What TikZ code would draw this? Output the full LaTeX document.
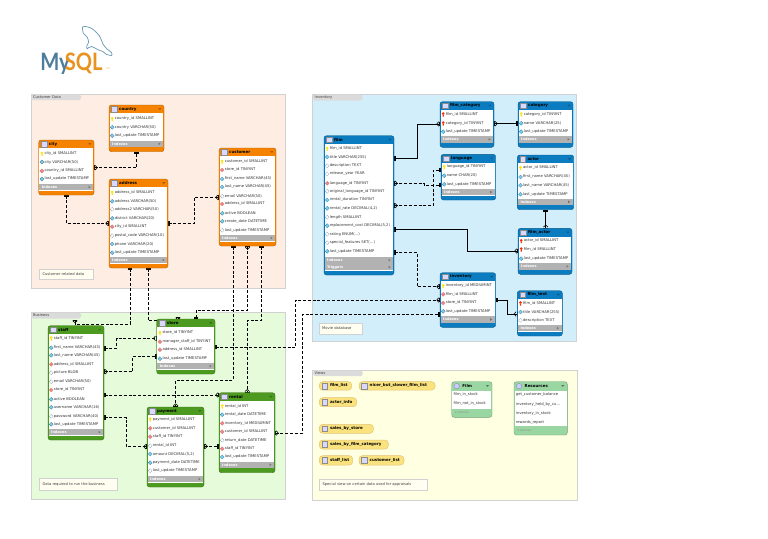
\documentclass[tikz,border=0pt]{standalone}
\usepackage{fontspec}
\setmainfont{DejaVu Sans}
\newfontfamily\logofont{Lato}
\usetikzlibrary{arrows.meta}

\pgfdeclarelayer{groups}
\pgfdeclarelayer{links}
\pgfsetlayers{groups,links,main}

\definecolor{ordata}{HTML}{F58200}
\definecolor{grbiz}{HTML}{4C9A20}
\definecolor{blinv}{HTML}{0B7CBF}
\definecolor{rtgreen}{HTML}{9AD6A2}
\definecolor{viewfill}{HTML}{FAE27E}
\definecolor{viewedge}{HTML}{E2C477}
\definecolor{peachbox}{HTML}{FDEDE3}
\definecolor{greenbox}{HTML}{E5FBDA}
\definecolor{bluebox}{HTML}{D3EEFB}
\definecolor{yellowbox}{HTML}{FFFFE2}
\definecolor{logoblue}{HTML}{4E7C9C}
\definecolor{logoorange}{HTML}{E8921F}
\definecolor{logofin}{HTML}{6E9BB5}

\tikzset{
  x=1pt, y=-1pt,
  frame/.style={draw=#1!75!black, line width=.4pt, rounded corners=2.5pt, outer sep=0pt, inner sep=0pt, anchor=north west},
  rowtxt/.style={anchor=west, inner sep=0pt, font=\fontsize{3.75}{4}\selectfont, text=black!80},
  headtxt/.style={anchor=west, inner sep=0pt, font=\fontsize{4}{4.5}\selectfont\bfseries},
  bartxt/.style={anchor=west, inner sep=0pt, font=\fontsize{3.5}{4}\selectfont\bfseries, text=white},
  smalltxt/.style={anchor=west, inner sep=0pt, font=\fontsize{3.7}{4}\selectfont, text=black!75},
  one/.tip={Bar[width=4.6pt,line width=.7pt,sep=.7pt] Bar[width=4.6pt,line width=.7pt]},
  many/.tip={Straight Barb[reversed,length=2pt,width=4.6pt,line width=.6pt,sep=.2pt] Bar[width=4.6pt,line width=.7pt]},
  idlink/.style={line width=.85pt, black},
  fklink/.style={line width=.85pt, black, dash pattern=on 3pt off 1.8pt},
}

% column icons, #1 is the position
\newcommand{\iconpk}[1]{\fill[yellow!85!orange, shift={#1}] (0,-.7) circle (1.5) (-.6,0) rectangle (.6,2.2);}
\newcommand{\iconrk}[1]{\fill[red!65!orange, shift={#1}] (0,-.7) circle (1.5) (-.6,0) rectangle (.6,2.2);}
\newcommand{\iconfk}[1]{\draw[red!45!black!50, fill=red!50, line width=.25pt, shift={#1}] (-2,0)--(0,-2)--(2,0)--(0,2)--cycle;}
\newcommand{\iconnn}[1]{\draw[cyan!50!black, fill=cyan!55, line width=.25pt, shift={#1}] (-2,0)--(0,-2)--(2,0)--(0,2)--cycle;}
\newcommand{\iconnu}[1]{\draw[cyan!40!black!60, fill=white, line width=.25pt, shift={#1}] (-2,0)--(0,-2)--(2,0)--(0,2)--cycle;}
\newcommand{\iconbox}[1]{\draw[black!45, fill=blue!15, line width=.4pt, shift={#1}] (0,0) rectangle (5.5,5.5);}

% grey bar of a table: table, x, y, width, label
\newcommand{\dbbar}[5]{%
  \fill[black!30] (#2+.6,#3) rectangle (#2+#4-.6,#3+6.6);
  \node[bartxt] (#1-#5) at (#2+3,#3+3.3) {#5};
  \fill[black!55] (#2+#4-5.5,#3+2) -- (#2+#4-3.5,#3+3.3) -- (#2+#4-5.5,#3+4.6) -- cycle;
}
\newcommand{\dbrows}[3]{%
  \foreach \yy/\kind/\txt [count=\i] in {#3}{
    \csname icon\kind\endcsname{(#2+3.2,\yy)}
    \node[rowtxt] (#1-\i) at (#2+5.6,\yy) {\txt};
  }
}
% [last bar] name, x, y, w, h, colour, title, then the rows y/icon/text
\newcommand{\dbtable}[8][Indexes]{%
  \node[frame=#7, fill=#7, minimum width=#5pt, minimum height=#6pt] (#2) at (#3,#4) {};
  \fill[white] (#3+.6,#4+8.2) rectangle (#3+#5-.6,#4+#6-4.5);
  \iconbox{(#3+2.6,#4+1.4)}
  \node[headtxt] (#2-title) at (#3+10,#4+4.2) {#8};
  \fill[#7!70!black] (#3+#5-5.6,#4+3.2) -- (#3+#5-2.6,#4+3.2) -- (#3+#5-4.1,#4+5) -- cycle;
  \dbbar{#2}{#3}{#4+#6-11.2}{#5}{#1}
  \def\curname{#2}\def\curx{#3}\dbrowsnext
}
\newcommand{\dbrowsnext}[1]{\dbrows{\curname}{\curx}{#1}}
% view pill: name, x, y, w, h, title
\newcommand{\dbview}[6]{%
  \node[draw=viewedge, line width=.5pt, outer sep=0pt, inner sep=0pt, anchor=north west, rounded corners=3.4pt, fill=viewfill, minimum width=#4pt, minimum height=#5pt] (#1) at (#2,#3) {};
  \iconbox{(#2+2.6,#3+1.6)}
  \node[headtxt] (#1-title) at (#2+10.5,#3+#5/2) {#6};
}
% routine group: name, x, y, w, h, title, footer
\newcommand{\dbroutines}[7]{%
  \node[frame=rtgreen, fill=rtgreen, minimum width=#4pt, minimum height=#5pt] (#1) at (#2,#3) {};
  \fill[white] (#2+.6,#3+9) rectangle (#2+#4-.6,#3+#5-8.6);
  \draw[blue!45!black!50, fill=blue!20, line width=.3pt] (#2+5,#3+4.4) circle (2.7);
  \node[headtxt] (#1-title) at (#2+10.5,#3+4.4) {#6};
  \fill[rtgreen!55!black] (#2+#4-6,#3+3.4) -- (#2+#4-3,#3+3.4) -- (#2+#4-4.5,#3+5.2) -- cycle;
  \node[rowtxt, font=\fontsize{2.8}{3}\selectfont, text=black!45] (#1-footer) at (#2+3,#3+#5-4.6) {#7};
}
% layer box: name, x, y, w, h, fill, label
\newcommand{\dblayer}[7]{%
  \node[draw=black!18, line width=.6pt, fill=#6, minimum width=#4pt, minimum height=#5pt, anchor=north west, inner sep=0pt, outer sep=0pt] (#1) at (#2,#3) {};
  \fill[black!14, rounded corners=1.8pt] (#2+.3,#3+.3) -- (#2+50,#3+.3) -- (#2+50,#3+6.2) -- (#2+.3,#3+6.2) -- cycle;
  \node[smalltxt] (#1-tab) at (#2+1.8,#3+3.2) {#7};
}
% note: name, x, y, w, h, text
\newcommand{\dbnote}[6]{%
  \node[draw=black!18, line width=.4pt, fill=yellow!6, minimum width=#4pt, minimum height=#5pt, anchor=north west, inner sep=0pt, outer sep=0pt] (#1) at (#2,#3) {};
  \node[smalltxt] (#1-text) at (#2+3,#3+#5/2) {#6};
}

\begin{document}
\begin{tikzpicture}
\useasboundingbox (0,0) rectangle (768,538);

\begin{pgfonlayer}{groups}
  \dblayer{custdata}{31}{94}{254.7}{194}{peachbox}{Customer Data}
  \dblayer{business}{31}{312.3}{254.7}{186.7}{greenbox}{Business}
  \dblayer{inventorybox}{312.7}{94.3}{264}{247.4}{bluebox}{Inventory}
  \dblayer{viewsbox}{312.7}{370}{264.3}{130}{yellowbox}{Views}
  \dbnote{custnote}{39.3}{269}{53.4}{10.3}{Customer related data}
  \dbnote{biznote}{39.3}{478.3}{77.4}{12}{Data required to run the business}
  \dbnote{movienote}{319}{322.7}{43.3}{11.3}{Movie database}
  \dbnote{viewnote}{319.3}{479}{107.4}{11}{Special view on certain data used for appraisals}
\end{pgfonlayer}

% logo
\draw[logofin, line width=.75pt, line join=round]
  plot[smooth, tension=.6] coordinates {(83.3,33.3) (82.6,27) (87,26.8) (92.5,29) (99.5,36) (103,44) (107,49) (111.5,52.5) (111.8,55.5)}
  plot[smooth, tension=.6] coordinates {(83.3,33.3) (87,37) (88.6,42) (86.8,46) (87,49)}
  plot[smooth, tension=.6] coordinates {(87,49) (91.5,46.5) (98,49.8) (103,51.6) (106.5,54.5) (111.8,55.5)};
\node[anchor=base west, inner sep=0pt, text=logoblue, xscale=.84, font=\fontsize{24}{24}\logofont\bfseries] (logomy) at (40.2,70.3) {My};
\node[anchor=base west, inner sep=0pt, text=logoorange, xscale=.84, font=\fontsize{24}{24}\logofont\bfseries] (logosql) at (64.6,70.3) {SQL};
\node[anchor=base west, inner sep=0pt, text=logoorange, font=\fontsize{2.2}{3}\logofont] (logotm) at (106,69) {TM};

% customer data
\dbtable{country}{109}{105}{55}{46.7}{ordata}{country}
  {119/pk/country\_id SMALLINT, 127.3/nn/country VARCHAR(50), 135.7/nn/last\_update TIMESTAMP}
\dbtable{city}{38.7}{140}{55.3}{55}{ordata}{city}
  {153.7/pk/city\_id SMALLINT, 162/nn/city VARCHAR(50), 171/fk/country\_id SMALLINT, 179/nn/last\_update TIMESTAMP}
\dbtable{address}{109}{179}{59}{89}{ordata}{address}
  {192.7/pk/address\_id SMALLINT, 201.3/nn/address VARCHAR(50), 209.3/nu/address2 VARCHAR(50), 218.3/nn/district VARCHAR(20), 226.7/fk/city\_id SMALLINT, 235.7/nu/postal\_code VARCHAR(10), 244/nn/phone VARCHAR(20), 252.7/nn/last\_update TIMESTAMP}
\dbtable{customer}{219}{148}{57}{98}{ordata}{customer}
  {161.7/pk/customer\_id SMALLINT, 170/fk/store\_id TINYINT, 179/nn/first\_name VARCHAR(45), 187/nn/last\_name VARCHAR(45), 196.3/nu/email VARCHAR(50), 204/fk/address\_id SMALLINT, 213.3/nn/active BOOLEAN, 221.3/nn/create\_date DATETIME, 230.3/nu/last\_update TIMESTAMP}

% business
\dbtable{staff}{48}{325.7}{56}{114.3}{grbiz}{staff}
  {338.3/pk/staff\_id TINYINT, 347.7/nn/first\_name VARCHAR(45), 355.3/nn/last\_name VARCHAR(45), 364.3/fk/address\_id SMALLINT, 372.7/nu/picture BLOB, 381.7/nu/email VARCHAR(50), 390/fk/store\_id TINYINT, 399.3/nn/active BOOLEAN, 407.3/nn/username VARCHAR(16), 416.3/nu/password VARCHAR(40), 424.3/nn/last\_update TIMESTAMP}
\dbtable{store}{156.7}{319}{58.3}{55}{grbiz}{store}
  {333/pk/store\_id TINYINT, 341.7/fk/manager\_staff\_id TINYINT, 349.7/fk/address\_id SMALLINT, 358.7/nn/last\_update TIMESTAMP}
\dbtable{payment}{147}{407}{57}{80}{grbiz}{payment}
  {419.3/pk/payment\_id SMALLINT, 428.3/fk/customer\_id SMALLINT, 436.7/fk/staff\_id TINYINT, 445.7/nu/rental\_id INT, 454/nn/{amount DECIMAL(5,2)}, 462.7/nn/payment\_date DATETIME, 470.7/nu/last\_update TIMESTAMP}
\dbtable{rental}{219}{392.7}{56}{80}{grbiz}{rental}
  {406.3/pk/rental\_id INT, 414.7/nn/rental\_date DATETIME, 423.3/fk/inventory\_id MEDIUMINT, 431.7/fk/customer\_id SMALLINT, 440.3/nu/return\_date DATETIME, 448.7/fk/staff\_id TINYINT, 457/nn/last\_update TIMESTAMP}

% inventory
\dbtable[Triggers]{film}{324}{135.7}{70}{139.3}{blinv}{film}
  {148.7/pk/film\_id SMALLINT, 157/nn/title VARCHAR(255), 165.7/nu/description TEXT, 174/nu/release\_year YEAR, 183.3/fk/language\_id TINYINT, 191.3/nu/original\_language\_id TINYINT, 200/nn/rental\_duration TINYINT, 208.3/nn/{rental\_rate DECIMAL(4,2)}, 217.3/nu/length SMALLINT, 225.7/nn/{replacement\_cost DECIMAL(5,2)}, 234.3/nu/{rating ENUM(...)}, 242.7/nu/{special\_features SET(...)}, 251.3/nn/last\_update TIMESTAMP}
\dbbar{film}{324}{256.9}{70}{Indexes}
\dbtable{filmcategory}{440}{101.7}{54}{45.6}{blinv}{film\_category}
  {114.3/rk/film\_id SMALLINT, 123.3/rk/category\_id TINYINT, 131.7/nn/last\_update TIMESTAMP}
\dbtable{category}{518}{101.7}{55}{45.6}{blinv}{category}
  {114.3/pk/category\_id TINYINT, 123.3/nn/name VARCHAR(25), 131.7/nn/last\_update TIMESTAMP}
\dbtable{language}{441}{154.3}{54.7}{45.7}{blinv}{language}
  {167/pk/language\_id TINYINT, 175.7/nn/name CHAR(20), 184.3/nn/last\_update TIMESTAMP}
\dbtable{actor}{517.3}{155}{56.4}{54.7}{blinv}{actor}
  {168/pk/actor\_id SMALLINT, 177/nn/first\_name VARCHAR(45), 185.3/nn/last\_name VARCHAR(45), 194.3/nn/last\_update TIMESTAMP}
\dbtable{filmactor}{518}{228.3}{54}{46}{blinv}{film\_actor}
  {241/rk/actor\_id SMALLINT, 249.3/rk/film\_id SMALLINT, 258.7/nn/last\_update TIMESTAMP}
\dbtable{inventory}{440}{272.7}{55.7}{54.6}{blinv}{inventory}
  {286/pk/inventory\_id MEDIUMINT, 294.3/fk/film\_id SMALLINT, 303/fk/store\_id TINYINT, 311.3/nn/last\_update TIMESTAMP}
\dbtable{filmtext}{517.3}{290.7}{45}{45.3}{blinv}{film\_text}
  {303.3/rk/film\_id SMALLINT, 312/nn/title VARCHAR(255), 320.3/nu/description TEXT}

% views
\dbview{vfilmlist}{319.3}{381.7}{32.4}{8.4}{film\_list}
\dbview{vnicer}{359}{381.7}{76}{8.4}{nicer\_but\_slower\_film\_list}
\dbview{vactorinfo}{319.3}{397.7}{37.4}{9}{actor\_info}
\dbview{vsalesstore}{319.3}{424.3}{54}{9}{sales\_by\_store}
\dbview{vsalesfilm}{319.3}{440}{69}{9}{sales\_by\_film\_category}
\dbview{vstafflist}{319.3}{455.7}{33.4}{9.3}{staff\_list}
\dbview{vcustlist}{359}{455.7}{45}{9.3}{customer\_list}

% routines
\dbroutines{rfilm}{451.7}{381.7}{40.3}{35.6}{Film}{2 routines}
\node[rowtxt] (rfilm-1) at (453.4,395) {film\_in\_stock};
\node[rowtxt] (rfilm-2) at (453.4,404) {film\_not\_in\_stock};
\dbroutines{rres}{514}{381.7}{53.3}{53.3}{Resources}{4 routines}
\node[rowtxt] (rres-1) at (515.7,395) {get\_customer\_balance};
\node[rowtxt] (rres-2) at (515.7,404.3) {inventory\_held\_by\_cu...};
\node[rowtxt] (rres-3) at (515.7,413.3) {inventory\_in\_stock};
\node[rowtxt] (rres-4) at (515.7,422.3) {rewards\_report};

% connectors
\begin{pgfonlayer}{links}
  \draw[fklink, many-one] (city.east |- 0,167.7) -- (136.7,167.7) -- (country.south -| 136.7,0);
  \draw[fklink, one-many] (city.south -| 66.7,0) -- (66.7,223.3) -- (address.west |- 0,223.3);
  \draw[fklink, one-many] (address.east |- 0,223.3) -- (194.3,223.3) -- (194.3,197.3) -- (customer.west |- 0,197.3);
  \draw[fklink, one-many] (address.south -| 130,0) -- (130,324) -- (75,324) -- (75,319.5);
  \draw[fklink, one-many] (address.south -| 148.5,0) -- (148.5,320.5) -- (178,320.5) -- (178,316.5);
  \draw[fklink, one-many] (customer.south -| 233.3,0) -- (233.3,380) -- (175.7,380) -- (payment.north -| 175.7,0);
  \draw[fklink, many-one] (customer.south -| 247.5,0) -- (247.5,310) -- (196,310) -- (store.north -| 196,0);
  \draw[fklink, one-many] (customer.south -| 261.7,0) -- (261.7,320) -- (247.3,320) -- (rental.north -| 247.3,0);
  \draw[fklink, one-many] (staff.east |- 0,348.3) -- (116.7,348.3) -- (116.7,338.3) -- (store.west |- 0,338.3);
  \draw[fklink, many-one] (staff.east |- 0,371.7) -- (132.7,371.7) -- (132.7,356.7) -- (store.west |- 0,356.7);
  \draw[fklink, one-many] (staff.east |- 0,395) -- (rental.west |- 0,395);
  \draw[fklink, one-many] (staff.east |- 0,417.7) -- (126.7,417.7) -- (126.7,446.7) -- (payment.west |- 0,446.7);
  \draw[fklink, many-one] (payment.east |- 0,446.3) -- (rental.west |- 0,446.3);
  \draw[fklink, one-many] (store.east |- 0,347) -- (295.7,347) -- (295.7,300) -- (inventory.west |- 0,300);
  \draw[fklink, many-one] (rental.east |- 0,433) -- (302.3,433) -- (302.3,314.3) -- (inventory.west |- 0,314.3);
  \draw[idlink, one-many] (film.east |- 0,158.7) -- (417.3,158.7) -- (417.3,124) -- (filmcategory.west |- 0,124);
  \draw[idlink, many-one] (filmcategory.east |- 0,123.7) -- (category.west |- 0,123.7);
  \draw[fklink, many-one] (film.east |- 0,183.3) -- (424,183.3) -- (424,185) -- (language.west |- 0,185);
  \draw[fklink, many-one] (film.east |- 0,205.7) -- (433.3,205.7) -- (433.3,170) -- (language.west |- 0,170);
  \draw[idlink, one-many] (film.east |- 0,229.3) -- (467.3,229.3) -- (467.3,251) -- (filmactor.west |- 0,251);
  \draw[idlink, one-many] (actor.south -| 545.7,0) -- (filmactor.north -| 545.7,0);
  \draw[fklink, one-many] (film.east |- 0,252.7) -- (417.3,252.7) -- (417.3,286.7) -- (inventory.west |- 0,286.7);
  \draw[idlink, one-many] (inventory.east |- 0,300) -- (507.3,300) -- (507.3,314) -- (filmtext.west |- 0,314);
\end{pgfonlayer}
\end{tikzpicture}
\end{document}
